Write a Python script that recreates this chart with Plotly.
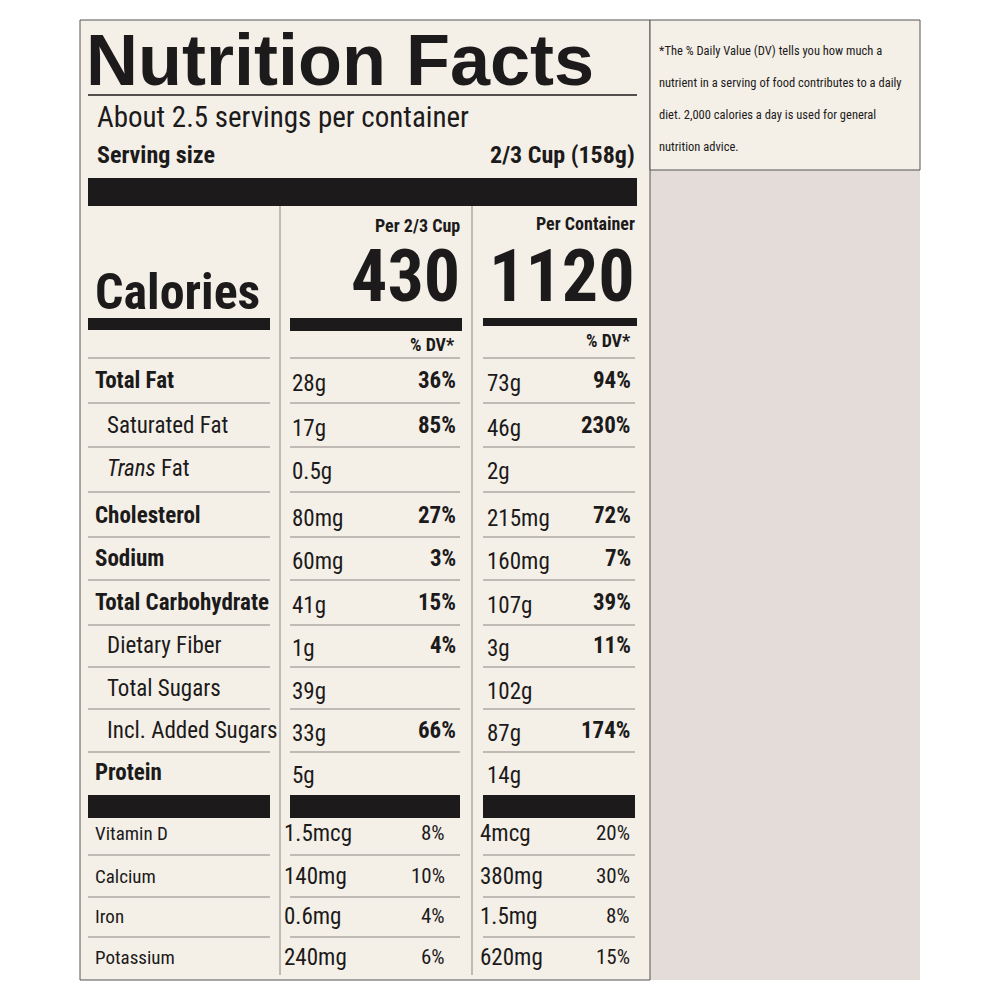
import plotly.graph_objects as go

nutrients = ["Total Fat", "Saturated Fat", "<i>Trans</i> Fat", "Cholesterol", "Sodium",
             "Total Carbohydrate", "Dietary Fiber", "Total Sugars", "Incl. Added Sugars", "Protein"]
bold_flags = [True, False, False, True, True, True, False, False, False, True]
indent_flags = [False, True, True, False, False, False, True, True, True, False]
serv_amt = ["28g", "17g", "0.5g", "80mg", "60mg", "41g", "1g", "39g", "33g", "5g"]
serv_dv = ["36%", "85%", "", "27%", "3%", "15%", "4%", "", "66%", ""]
cont_amt = ["73g", "46g", "2g", "215mg", "160mg", "107g", "3g", "102g", "87g", "14g"]
cont_dv = ["94%", "230%", "", "72%", "7%", "39%", "11%", "", "174%", ""]
row_y = [380, 425, 468, 515, 558, 602, 645, 688, 730, 772]

vitamins = ["Vitamin D", "Calcium", "Iron", "Potassium"]
vit_serv_amt = ["1.5mcg", "140mg", "0.6mg", "240mg"]
vit_serv_dv = ["8%", "10%", "4%", "6%"]
vit_cont_amt = ["4mcg", "380mg", "1.5mg", "620mg"]
vit_cont_dv = ["20%", "30%", "8%", "15%"]
vit_y = [833, 876, 916, 957]

calories_serv = "430"
calories_cont = "1120"

FONT = "Liberation Sans Narrow, Roboto Condensed, Liberation Sans, Arial"
INK = "#1c1a1a"
shapes = []
ann = []

def rect(x0, y0, x1, y1, fill, line=None, lw=0):
    shapes.append(dict(type="rect", xref="x", yref="y", x0=x0, y0=y0, x1=x1, y1=y1,
                       fillcolor=fill, line=dict(color=line or fill, width=lw), layer="below"))

def hline(x0, x1, y, w=1, c="#8a8580"):
    shapes.append(dict(type="line", xref="x", yref="y", x0=x0, x1=x1, y0=y, y1=y,
                       line=dict(color=c, width=w)))

def text(x, y, s, size, bold=False, anchor="left", font=FONT, color=INK):
    if bold:
        s = "<b>" + s + "</b>"
    ann.append(dict(x=x, y=y, xref="x", yref="y", text=s, showarrow=False,
                    xanchor=anchor, yanchor="middle",
                    font=dict(family=font, size=size, color=color)))

rect(650, 20, 920, 980, "#e3dcd9")
rect(80, 20, 650, 980, "#f4f0e8", "#555", 1)
rect(650, 20, 920, 170, "#f4f0e8", "#555", 1)

text(84, 60, "Nutrition Facts", 72, True, font="Liberation Sans, Arial")
hline(88, 637, 95, 1.5, INK)
text(95, 117, "About 2.5 servings per container", 29)
text(95, 155, "Serving size", 24, True)
text(637, 155, "2/3 Cup (158g)", 24, True, "right")
rect(88, 178, 637, 206, INK)

for xv in (280, 472):
    shapes.append(dict(type="line", xref="x", yref="y", x0=xv, x1=xv, y0=206, y1=975,
                       line=dict(color="#8a8580", width=1)))

text(462, 225, "Per 2/3 Cup", 18, True, "right")
text(637, 223, "Per Container", 18, True, "right")
text(462, 276, calories_serv, 72, True, "right")
text(637, 276, calories_cont, 72, True, "right")
text(93, 292, "Calories", 50, True)
rect(88, 318, 270, 330, INK)
rect(290, 318, 462, 331, INK)
rect(483, 318, 637, 326, INK)
text(457, 344, "% DV*", 18, True, "right")
text(633, 340, "% DV*", 18, True, "right")

segs = [(88, 270), (290, 460), (483, 635)]
seps = [358, 403, 447, 492, 537, 580, 625, 667, 709, 752]
for y in seps:
    for a, b in segs:
        hline(a, b, y)

for i, name in enumerate(nutrients):
    y = row_y[i]
    text(105 if indent_flags[i] else 93, y, name, 23, bold_flags[i])
    text(290, y + 3, serv_amt[i], 23)
    if serv_dv[i]:
        text(458, y, serv_dv[i], 23, True, "right")
    text(485, y + 3, cont_amt[i], 23)
    if cont_dv[i]:
        text(633, y, cont_dv[i], 23, True, "right")

for a, b in segs:
    rect(a, 795, b, 818, INK)

vseps = [855, 897, 937]
for y in vseps:
    for a, b in segs:
        hline(a, b, y)
for i, name in enumerate(vitamins):
    y = vit_y[i]
    text(93, y, name, 19)
    text(282, y, vit_serv_amt[i], 23)
    text(447, y, vit_serv_dv[i], 21, False, "right")
    text(478, y, vit_cont_amt[i], 23)
    text(632, y, vit_cont_dv[i], 21, False, "right")

foot = ["*The % Daily Value (DV) tells you how much a",
        "nutrient in a serving of food contributes to a daily",
        "diet. 2,000 calories a day is used for general",
        "nutrition advice."]
for i, line in enumerate(foot):
    text(657, 50 + i * 32, line, 12.5)

fig = go.Figure()
fig.update_layout(width=1000, height=1000, margin=dict(l=0, r=0, t=0, b=0),
                  paper_bgcolor="white", plot_bgcolor="white",
                  xaxis=dict(range=[8, 1008], visible=False, fixedrange=True),
                  yaxis=dict(range=[1008, 8], visible=False, fixedrange=True),
                  shapes=shapes, annotations=ann, showlegend=False)
fig.write_html("out.html")
